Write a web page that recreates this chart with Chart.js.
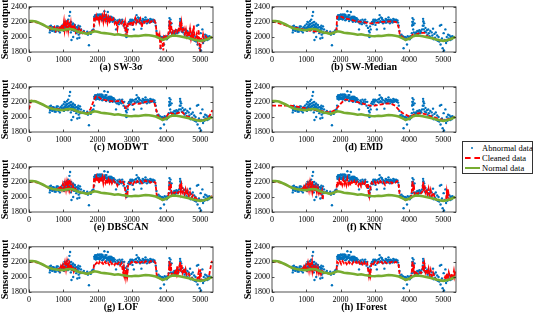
<!DOCTYPE html>
<html><head><meta charset="utf-8">
<script src="https://cdn.jsdelivr.net/npm/chart.js@4.4.1/dist/chart.umd.min.js"></script>
<style>
body{margin:0;background:#fff;width:533px;height:318px;overflow:hidden;position:relative;font-family:"Liberation Serif","Times New Roman",serif}
canvas{position:absolute}
#legend{position:absolute;left:462px;top:141px;width:71px;height:33px;border:1px solid #333;background:#fff;font-size:8.5px;box-sizing:border-box;color:#000;padding-top:1px}
#legend div{height:10px;line-height:10px;white-space:nowrap;position:relative;padding-left:19px}
#legend span{position:absolute;left:2px;top:5px;width:15px;height:0}
</style></head>
<body>
<div id="legend">
<div><span style="border-top:none"><i style="position:absolute;left:6px;top:-1px;width:2px;height:2px;background:#0072BD;border-radius:1px"></i></span>Abnormal data</div>
<div><span style="border-top:2px dashed #FF0000;top:4px"></span>Cleaned data</div>
<div><span style="border-top:2px solid #77AC30;top:4px"></span>Normal data</div>
</div>
<script>
const xTicks=[0,1000,2000,3000,4000,5000];
const yTicks=[1800,2000,2200,2400];
const panelTitles=['(a) SW-3σ','(b) SW-Median','(c) MODWT','(d) EMD','(e) DBSCAN','(f) KNN','(g) LOF','(h) IForest'];

const normalData=[[0,2210],[100,2212],[200,2205],[300,2185],[400,2165],[500,2140],[600,2118],[700,2105],[800,2098],[900,2092],[1000,2090],[1100,2100],[1200,2105],[1300,2098],[1400,2075],[1500,2060],[1600,2052],[1700,2040],[1800,2055],[1900,2075],[2000,2068],[2100,2055],[2200,2050],[2300,2045],[2400,2040],[2500,2030],[2600,2035],[2700,2025],[2800,2018],[2900,2012],[3000,2010],[3100,2015],[3200,2012],[3300,2018],[3400,2025],[3500,2022],[3600,2015],[3700,2005],[3800,1985],[3900,1960],[4000,1975],[4100,2005],[4200,2020],[4300,2015],[4400,2010],[4500,2000],[4600,1990],[4700,1980],[4800,1965],[4900,1955],[5000,1948],[5100,1955],[5200,1970],[5300,1990],[5350,1998]];

const abnormalData=[[600,2140],[605,2060],[610,2110],[620,2090],[640,2150],[660,2120],[680,2080],[700,2100],[720,2130],[740,2090],[760,2110],[780,2070],[800,2120],[820,2100],[840,2140],[860,2080],[880,2110],[900,2060],[920,2130],[940,2095],[960,2150],[980,2100],[1000,2120],[1010,2170],[1020,2080],[1040,2140],[1060,2190],[1070,2100],[1090,2160],[1100,2120],[1110,2210],[1130,2090],[1150,2180],[1160,2140],[1180,2280],[1190,2110],[1200,2330],[1210,2160],[1220,2060],[1230,2200],[1240,1960],[1250,2130],[1260,2090],[1270,2170],[1280,2110],[1290,2000],[1300,2140],[1320,2080],[1340,2160],[1360,2100],[1380,2050],[1400,2130],[1410,1980],[1420,2090],[1440,2150],[1450,2030],[1460,2110],[1470,1990],[1480,2070],[1490,2140],[1500,2050],[1520,2100],[1560,2060],[1600,2080],[1650,2050],[1700,2070],[1720,2030],[1750,1890],[1780,2060],[1800,2040],[1820,2070],[1850,2090],[1880,2100],[1900,2150],[1905,2270],[1920,2260],[1940,2280],[1960,2250],[1980,2290],[2000,2260],[2020,2240],[2040,2290],[2060,2230],[2080,2270],[2100,2250],[2120,2300],[2140,2220],[2160,2270],[2180,2240],[2200,2340],[2210,2250],[2230,2290],[2250,2210],[2270,2260],[2290,2230],[2300,2330],[2320,2240],[2340,2270],[2360,2200],[2380,2250],[2400,2220],[2420,2260],[2440,2200],[2460,2240],[2480,2210],[2500,2230],[2520,2200],[2540,2100],[2560,2180],[2580,2220],[2600,2200],[2620,2170],[2640,2230],[2660,2190],[2680,2210],[2700,2180],[2720,2230],[2740,2200],[2760,2150],[2780,2200],[2800,2120],[2820,2020],[2830,2080],[2840,2000],[2850,2060],[2860,2140],[2870,2010],[2880,2100],[2900,2180],[2920,2200],[2940,2170],[2960,2230],[2980,2190],[3000,2210],[3020,2160],[3040,2220],[3060,2100],[3080,2200],[3100,2230],[3120,2190],[3140,2290],[3160,2210],[3180,2260],[3200,2200],[3220,2230],[3240,2180],[3260,2220],[3280,2110],[3300,2210],[3320,2240],[3340,2190],[3360,2220],[3380,2200],[3400,2260],[3420,2210],[3440,2180],[3460,2230],[3480,2200],[3500,2220],[3520,2190],[3540,2240],[3560,2200],[3580,2220],[3600,2210],[3620,2230],[3640,2200],[3660,2220],[3680,2190],[3700,2150],[3720,2080],[3740,2020],[3760,2000],[3780,2030],[3800,1990],[3820,2010],[3840,1850],[3860,1980],[3880,2000],[3900,1960],[3920,1990],[3940,1900],[3960,2010],[3980,1980],[4000,2000],[4020,1970],[4040,2010],[4060,1990],[4080,2050],[4090,2150],[4100,2250],[4110,2200],[4120,2100],[4130,2230],[4140,2060],[4160,2180],[4180,2040],[4200,2060],[4220,2050],[4240,2080],[4260,2040],[4280,2070],[4300,2090],[4320,2050],[4340,2080],[4360,2060],[4380,2100],[4400,2150],[4410,2240],[4420,2200],[4430,2100],[4440,2180],[4460,2070],[4480,2120],[4500,2060],[4520,2090],[4540,2030],[4560,2100],[4580,2050],[4600,2010],[4620,2080],[4640,1990],[4660,2060],[4680,2020],[4700,2110],[4720,1970],[4740,2040],[4760,1990],[4780,2060],[4800,1960],[4820,2020],[4840,1950],[4860,2000],[4880,1940],[4900,2150],[4920,1900],[4940,2160],[4960,1980],[4980,1850],[5000,1800],[5010,2050],[5020,1820],[5040,1960],[5060,2100],[5080,1920],[5100,2000],[5120,1950],[5140,2030],[5160,1980],[5180,2020],[5200,1960],[5220,2000],[5240,1970],[5260,2010],[5280,1990],[5300,2000],
[630,2100],[690,2130],[750,2070],[810,2140],[870,2100],[950,2120],[1015,2110],[1035,2200],[1055,2130],[1085,2150],[1105,2170],[1125,2130],[1145,2230],[1175,2150],[1195,2190],[1215,2120],[1235,2150],[1265,2140],[1285,2180],[1310,2120],[1330,2100],[1370,2130],[1430,2120],[1910,2240],[1930,2290],[1950,2230],[1970,2270],[1990,2240],[2010,2300],[2030,2260],[2050,2250],[2070,2300],[2090,2240],[2110,2280],[2130,2260],[2150,2290],[2170,2230],[2190,2260],[2220,2270],[2240,2250],[2260,2290],[2280,2240],[2310,2260],[2330,2220],[2350,2250],[2370,2230],[2390,2270],[2410,2230],[2430,2240],[2450,2220],[2470,2250],[2490,2230],[2950,2210],[3010,2230],[3130,2240],[3170,2200],[3210,2250],[3310,2190],[3350,2230],[3410,2230],[3470,2210],[3530,2210],[3570,2230],[3630,2210],[4095,2200],[4105,2170],[4125,2160],[4415,2210],[4425,2150]];

const cleanedSW3sigma=[[0,2210],[300,2185],[580,2120],[600,2150],[620,2080],[650,2120],[700,2090],[740,2130],[780,2080],[820,2120],[860,2090],[900,2150],[930,2080],[960,2170],[990,2100],[1020,2200],[1040,2090],[1070,2180],[1100,2110],[1130,2230],[1150,2100],[1180,2200],[1200,2120],[1220,2180],[1240,2080],[1270,2160],[1300,2100],[1330,2140],[1360,2070],[1400,2120],[1430,2050],[1460,2110],[1490,2060],[1520,2090],[1560,2050],[1600,2070],[1650,2050],[1700,2045],[1750,2060],[1800,2050],[1850,2080],[1890,2080],[1900,2270],[1930,2230],[1960,2280],[1990,2210],[2020,2270],[2050,2200],[2080,2290],[2110,2230],[2140,2280],[2170,2200],[2200,2300],[2230,2220],[2260,2270],[2290,2190],[2320,2260],[2350,2210],[2380,2250],[2420,2200],[2460,2240],[2500,2180],[2540,2220],[2580,2110],[2610,2200],[2650,2220],[2690,2180],[2730,2210],[2770,2150],[2800,2200],[2820,2020],[2840,2100],[2860,2010],[2880,2150],[2910,2200],[2950,2170],[2990,2210],[3030,2140],[3060,2200],[3100,2250],[3130,2180],[3170,2220],[3210,2200],[3250,2240],[3290,2130],[3330,2210],[3370,2190],[3410,2230],[3450,2200],[3490,2220],[3530,2190],[3570,2210],[3610,2200],[3650,2220],[3690,2190],[3710,2120],[3730,2000],[3760,2030],[3790,1980],[3810,2020],[3840,1830],[3860,2000],[3890,1960],[3920,1820],[3940,2000],[3970,1980],[4000,2010],[4030,1990],[4060,2010],[4090,2120],[4100,2220],[4120,2060],[4140,2200],[4170,2050],[4200,2080],[4240,2050],[4280,2090],[4320,2060],[4360,2100],[4390,2070],[4410,2200],[4430,2090],[4450,2180],[4480,2060],[4520,2110],[4550,2040],[4580,2100],[4610,2020],[4640,2080],[4670,2000],[4700,2100],[4730,1980],[4760,2050],[4790,1960],[4810,2150],[4830,1990],[4860,1970],[4890,2030],[4920,1960],[4950,2100],[4980,1870],[5000,1810],[5020,2000],[5050,1950],[5080,2030],[5110,1960],[5150,2010],[5200,1980],[5250,2000],[5300,1990],[5350,2000]];

const cleanedSWMedian=[[0,2210],[500,2140],[1000,2090],[1500,2060],[1800,2055],[1880,2080],[1900,2270],[2000,2270],[2050,2265],[2100,2250],[2200,2240],[2300,2230],[2400,2215],[2500,2205],[2600,2200],[2700,2195],[2800,2180],[2900,2180],[3000,2185],[3100,2190],[3200,2200],[3300,2200],[3400,2205],[3500,2205],[3600,2200],[3650,2190],[3700,2120],[3730,2030],[3800,2000],[3900,1965],[4000,1980],[4080,2010],[4100,2030],[4200,2030],[4300,2050],[4400,2055],[4450,2055],[4500,2020],[4600,1995],[4700,1980],[4800,1965],[4900,1955],[5000,1948],[5100,1955],[5200,1970],[5300,1990],[5350,1998]];

const cleanedMODWT=[[0,2100],[30,2160],[60,2210],[100,2230],[150,2215],[300,2185],[600,2118],[1000,2095],[1200,2105],[1500,2060],[1700,2045],[1800,2110],[1850,2170],[1900,2230],[1950,2270],[2000,2275],[2050,2260],[2100,2240],[2200,2225],[2300,2215],[2400,2210],[2500,2205],[2600,2210],[2700,2215],[2750,2190],[2800,2140],[2850,2105],[2900,2150],[2950,2170],[3000,2165],[3050,2170],[3100,2180],[3200,2175],[3300,2185],[3400,2200],[3500,2205],[3600,2210],[3650,2200],[3700,2120],[3750,2030],[3800,1990],[3850,1980],[3900,1975],[4000,1990],[4050,2030],[4100,2060],[4150,2050],[4200,2040],[4300,2045],[4400,2060],[4450,2070],[4500,2050],[4600,2010],[4700,1995],[4800,1975],[4900,1960],[5000,1955],[5100,1960],[5200,1980],[5250,2000],[5300,2040],[5350,2090]];

const cleanedEMD=[[0,2150],[200,2150],[400,2150],[600,2148],[700,2140],[800,2130],[1000,2115],[1100,2108],[1200,2100],[1400,2080],[1600,2065],[1700,2062],[1800,2080],[1900,2120],[2000,2175],[2100,2220],[2150,2232],[2200,2228],[2300,2215],[2400,2205],[2500,2195],[2600,2185],[2700,2170],[2800,2158],[2900,2150],[3000,2150],[3100,2158],[3200,2168],[3300,2175],[3400,2178],[3500,2170],[3600,2148],[3700,2095],[3800,2055],[3900,2030],[4000,2008],[4100,2020],[4200,2040],[4300,2050],[4400,2045],[4500,2035],[4600,2015],[4700,2000],[4800,1985],[4900,1970],[5000,1960],[5100,1965],[5200,1980],[5300,1995],[5350,2000]];

const cleanedDBSCAN=[[0,2210],[300,2185],[580,2120],[600,2100],[650,2115],[700,2100],[800,2098],[880,2120],[900,2090],[930,2150],[960,2100],[990,2170],[1020,2110],[1050,2190],[1080,2100],[1110,2200],[1140,2120],[1170,2230],[1190,2110],[1220,2180],[1250,2100],[1280,2150],[1310,2090],[1350,2110],[1400,2080],[1450,2070],[1500,2060],[1600,2052],[1700,2040],[1800,2055],[1880,2075],[1900,2260],[1930,2220],[1960,2270],[1990,2200],[2020,2260],[2050,2180],[2080,2270],[2110,2200],[2140,2260],[2170,2180],[2200,2250],[2230,2190],[2260,2240],[2290,2170],[2320,2230],[2350,2190],[2380,2240],[2420,2180],[2460,2220],[2500,2190],[2540,2200],[2580,2150],[2620,2190],[2660,2210],[2700,2180],[2740,2200],[2780,2160],[2810,2080],[2830,2020],[2850,2060],[2870,2000],[2890,2150],[2920,2190],[2960,2180],[3000,2200],[3040,2170],[3080,2200],[3120,2180],[3160,2210],[3200,2190],[3250,2210],[3300,2180],[3350,2200],[3400,2220],[3450,2200],[3500,2210],[3550,2190],[3600,2210],[3650,2200],[3690,2190],[3710,2100],[3730,2010],[3760,1995],[3800,1985],[3900,1960],[4000,1975],[4060,2000],[4080,2060],[4100,2200],[4120,2090],[4140,2180],[4160,2040],[4200,2060],[4250,2050],[4300,2080],[4350,2050],[4390,2080],[4410,2180],[4430,2080],[4450,2150],[4480,2060],[4510,2090],[4540,2040],[4570,2100],[4600,2030],[4630,2080],[4660,2010],[4700,2060],[4740,1990],[4780,2020],[4820,1970],[4860,2010],[4900,1960],[4950,1980],[5000,1948],[5100,1955],[5200,1970],[5300,2000],[5350,2010]];

const cleanedKNN=[[0,2210],[300,2185],[600,2118],[800,2098],[880,2110],[900,2080],[930,2130],[960,2090],[990,2150],[1020,2100],[1050,2170],[1080,2090],[1110,2190],[1140,2100],[1170,2210],[1190,2080],[1220,2160],[1250,2070],[1280,2130],[1310,2060],[1340,2120],[1370,2050],[1400,2100],[1430,2030],[1460,2080],[1480,1960],[1500,2060],[1600,2052],[1700,2040],[1800,2055],[1880,2075],[1900,2200],[1930,2170],[1960,2220],[1990,2150],[2020,2210],[2050,2160],[2080,2230],[2110,2170],[2140,2220],[2170,2160],[2200,2240],[2230,2170],[2260,2210],[2290,2150],[2320,2200],[2360,2170],[2400,2210],[2440,2160],[2480,2200],[2520,2150],[2560,2200],[2600,2140],[2640,2190],[2680,2150],[2720,2200],[2760,2140],[2800,2180],[2820,2060],[2840,2010],[2860,2070],[2880,2130],[2910,2190],[2950,2170],[3000,2200],[3040,2160],[3080,2200],[3120,2170],[3160,2210],[3200,2180],[3250,2200],[3300,2160],[3350,2200],[3400,2190],[3450,2210],[3500,2180],[3550,2200],[3600,2190],[3650,2210],[3690,2190],[3710,2100],[3730,2010],[3760,1995],[3800,1985],[3900,1960],[4000,1975],[4060,2000],[4080,2070],[4100,2210],[4120,2080],[4140,2170],[4160,2030],[4200,2060],[4250,2040],[4300,2070],[4350,2050],[4390,2070],[4410,2200],[4430,2070],[4450,2160],[4480,2060],[4510,2100],[4540,2040],[4570,2110],[4600,2030],[4630,2090],[4660,2010],[4700,2060],[4750,1990],[4800,1965],[4900,1955],[5000,1948],[5080,1960],[5100,2060],[5120,1980],[5140,2100],[5160,1970],[5200,1970],[5300,1990],[5350,1998]];

const cleanedLOF=[[0,2210],[300,2185],[600,2118],[800,2098],[880,2110],[900,2090],[930,2140],[960,2100],[990,2160],[1020,2110],[1050,2190],[1080,2100],[1110,2200],[1140,2110],[1170,2220],[1190,2090],[1220,2170],[1250,2080],[1280,2140],[1310,2070],[1350,2110],[1400,2080],[1450,2070],[1500,2060],[1600,2052],[1700,2040],[1800,2055],[1880,2075],[1900,2180],[1940,2170],[1980,2190],[2020,2160],[2060,2200],[2100,2170],[2140,2190],[2180,2160],[2220,2200],[2260,2170],[2300,2190],[2340,2160],[2380,2200],[2420,2170],[2460,2190],[2500,2160],[2540,2200],[2580,2170],[2620,2190],[2660,2150],[2700,2180],[2730,2100],[2750,2050],[2770,2120],[2790,2030],[2810,2090],[2830,2000],[2850,2070],[2870,2020],[2890,2150],[2920,2190],[2960,2180],[3000,2200],[3050,2180],[3100,2200],[3150,2190],[3200,2210],[3250,2190],[3300,2200],[3350,2180],[3400,2210],[3450,2200],[3500,2190],[3550,2210],[3600,2200],[3650,2210],[3690,2190],[3710,2100],[3730,2010],[3760,1995],[3800,1985],[3900,1960],[4000,1975],[4060,2000],[4080,2070],[4100,2210],[4120,2080],[4140,2180],[4160,2030],[4200,2060],[4240,2040],[4280,2100],[4300,2050],[4330,2150],[4350,2050],[4380,2100],[4410,2200],[4430,2070],[4450,2170],[4480,2060],[4510,2110],[4540,2040],[4570,2100],[4600,2030],[4650,2060],[4700,2000],[4800,1965],[4900,1955],[4950,2060],[4980,1960],[5000,2100],[5030,1960],[5100,1955],[5200,1970],[5250,2000],[5280,2080],[5310,2150],[5330,2200],[5350,2210]];

const cleanedIForest=[[0,2210],[300,2185],[600,2118],[800,2098],[880,2110],[900,2080],[930,2130],[960,2090],[990,2150],[1020,2100],[1050,2180],[1080,2090],[1110,2200],[1140,2100],[1170,2190],[1190,2080],[1220,2160],[1250,2070],[1280,2130],[1310,2060],[1340,2120],[1370,2050],[1400,2100],[1430,2040],[1460,2080],[1500,2060],[1600,2052],[1700,2040],[1800,2055],[1880,2075],[1900,2200],[1940,2180],[1980,2210],[2020,2170],[2060,2210],[2100,2180],[2140,2200],[2180,2170],[2220,2210],[2260,2180],[2300,2200],[2340,2170],[2380,2200],[2420,2180],[2460,2200],[2500,2170],[2540,2200],[2580,2160],[2620,2190],[2660,2150],[2700,2190],[2740,2150],[2780,2180],[2810,2070],[2830,2010],[2850,2060],[2870,2020],[2890,2150],[2920,2190],[2960,2170],[3000,2200],[3050,2170],[3100,2200],[3150,2180],[3200,2200],[3250,2170],[3300,2200],[3350,2180],[3400,2200],[3450,2190],[3500,2200],[3550,2180],[3600,2200],[3650,2190],[3690,2180],[3710,2100],[3730,2010],[3760,1995],[3800,1985],[3900,1960],[4000,1975],[4060,2000],[4080,2070],[4100,2210],[4120,2070],[4140,2170],[4160,2030],[4200,2060],[4250,2040],[4300,2070],[4350,2050],[4390,2080],[4410,2200],[4430,2070],[4450,2160],[4480,2060],[4510,2100],[4540,2040],[4570,2110],[4600,2030],[4630,2090],[4660,2010],[4700,2060],[4750,1990],[4800,1965],[4900,1955],[5000,1948],[5050,2000],[5080,1960],[5100,2050],[5130,1970],[5160,2060],[5200,1990],[5250,2040],[5280,2000],[5310,2080],[5330,2020],[5350,2090]];

const cleanedSeries=[cleanedSW3sigma,cleanedSWMedian,cleanedMODWT,cleanedEMD,cleanedDBSCAN,cleanedKNN,cleanedLOF,cleanedIForest];

const FONT='"Liberation Serif","Times New Roman",serif';
const toPts=a=>a.map(p=>({x:p[0],y:p[1]}));

const framePlugin={id:'frame',afterDatasetsDraw(chart){
  const {ctx,chartArea:a,scales:{x,y}}=chart;
  ctx.save();ctx.strokeStyle='#262626';ctx.lineWidth=0.8;
  ctx.strokeRect(a.left,a.top,a.right-a.left,a.bottom-a.top);
  ctx.beginPath();
  xTicks.forEach(v=>{const p=Math.round(x.getPixelForValue(v))+0.5;ctx.moveTo(p,a.bottom);ctx.lineTo(p,a.bottom-2.5);ctx.moveTo(p,a.top);ctx.lineTo(p,a.top+2.5);});
  yTicks.forEach(v=>{const p=Math.round(y.getPixelForValue(v))+0.5;ctx.moveTo(a.left,p);ctx.lineTo(a.left+2.5,p);ctx.moveTo(a.right,p);ctx.lineTo(a.right-2.5,p);});
  ctx.stroke();ctx.restore();
}};

function makePanel(i){
  const col=i%2,row=Math.floor(i/2);
  const cv=document.createElement('canvas');
  cv.width=222;cv.height=80;
  cv.style.left=(col===0?0:243)+'px';
  cv.style.top=(row*80)+'px';
  cv.style.width='222px';cv.style.height='80px';
  document.body.appendChild(cv);
  new Chart(cv,{
    type:'scatter',
    data:{datasets:[
      {label:'Normal data',data:toPts(normalData),showLine:true,borderColor:'#77AC30',backgroundColor:'#77AC30',borderWidth:2.6,pointRadius:0,order:0},
      {label:'Cleaned data',data:toPts(cleanedSeries[i]),showLine:true,borderColor:'#FF0000',borderWidth:1.8,borderDash:[4,2],pointRadius:0,order:1},
      {label:'Abnormal data',data:toPts(abnormalData),showLine:false,backgroundColor:'#0072BD',borderWidth:0,pointRadius:1.2,order:2}
    ]},
    options:{
      responsive:false,animation:false,devicePixelRatio:1,
      layout:{padding:{top:6,right:9,left:0,bottom:0}},
      plugins:{legend:{display:false},tooltip:{enabled:false}},
      scales:{
        x:{type:'linear',min:0,max:5370,
          afterBuildTicks:s=>{s.ticks=xTicks.map(v=>({value:v}));},
          afterFit:s=>{s.height=28;},
          grid:{display:false,drawTicks:false},border:{display:false},
          ticks:{font:{family:FONT,size:8},color:'#000',padding:3,maxRotation:0,autoSkip:false,callback:v=>String(v)},
          title:{display:true,text:panelTitles[i],font:{family:FONT,size:10,weight:'bold'},color:'#000',padding:{top:0,bottom:6.5}}
        },
        y:{type:'linear',min:1800,max:2400,
          afterBuildTicks:s=>{s.ticks=yTicks.map(v=>({value:v}));},
          afterFit:s=>{s.width=29;},
          grid:{display:false,drawTicks:false},border:{display:false},
          ticks:{font:{family:FONT,size:8},color:'#000',padding:2,callback:v=>String(v)},
          title:{display:true,text:'Sensor output',font:{family:FONT,size:10,weight:'bold',lineHeight:1},color:'#000',padding:0}
        }
      }
    },
    plugins:[framePlugin]
  });
}
for(let i=0;i<8;i++)makePanel(i);
</script>
</body></html>
